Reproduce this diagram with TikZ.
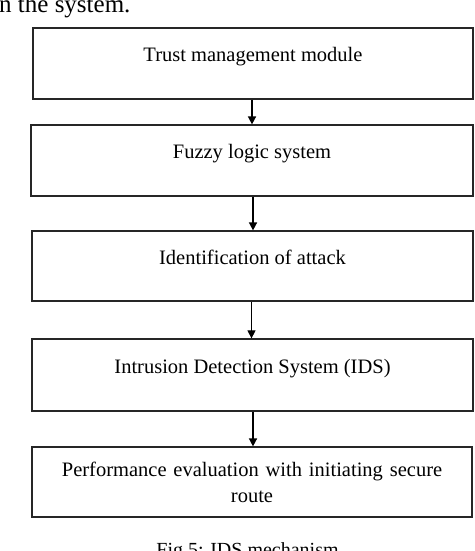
\documentclass[tikz,border=0pt]{standalone}
\usepackage{fontspec}
\setmainfont{Liberation Serif}
\usetikzlibrary{arrows.meta}
\begin{document}
\begin{tikzpicture}[x=1pt,y=-1pt,
  box/.style={draw=black!85,line width=1.2pt,minimum height=71pt,inner sep=0pt,
    font=\fontsize{20.5}{26}\selectfont,text height=14pt,text depth=18pt},
  lastbox/.style={draw=black!85,line width=1.2pt,minimum height=70pt,inner sep=0pt,
    font=\fontsize{20.5}{26}\selectfont,align=center,text width=430pt},
  flow/.style={line width=1.5pt,-{Triangle[width=8pt,length=8pt]}},
  thinflow/.style={line width=0.9pt,-{Triangle[width=8pt,length=8pt]}}]
\useasboundingbox (0,0) rectangle (474,551);
\node[anchor=base west,font=\fontsize{25}{30}\selectfont,inner sep=0pt] (prev) at (-1,13) {n the system.};
\node[box,minimum width=440pt] (b1) at (253,63.5) {Trust management module};
\node[box,minimum width=442pt] (b2) at (252,160.5) {Fuzzy logic system};
\node[box,minimum width=441pt,minimum height=70pt] (b3) at (252.5,266) {Identification of attack};
\node[box,minimum width=441pt,minimum height=72pt] (b4) at (252.5,375) {Intrusion Detection System (IDS)};
\node[lastbox,minimum width=440pt] (b5) at (252,482) {Performance evaluation with initiating secure\\route};
\node[anchor=base,font=\fontsize{20}{24}\selectfont,inner sep=0pt] (cap) at (247.5,556) {Fig 5: IDS mechanism};
\draw[flow] (b1.south -| 252,0) -- (b2.north -| 252,0);
\draw[flow] (b2.south -| 253,0) -- (b3.north -| 253,0);
\draw[thinflow] (b3.south -| 251.5,0) -- (b4.north -| 251.5,0);
\draw[flow] (b4.south -| 253,0) -- (b5.north -| 253,0);
\end{tikzpicture}
\end{document}
